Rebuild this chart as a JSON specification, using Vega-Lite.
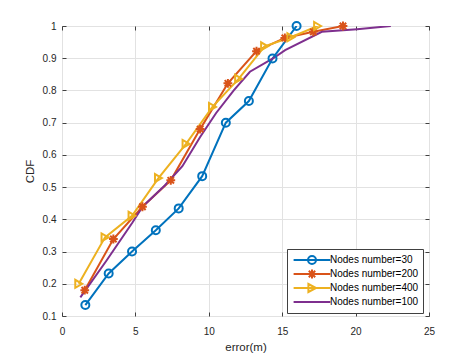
{
  "$schema": "https://vega.github.io/schema/vega-lite/v6.json",
  "width": 367,
  "height": 290,
  "autosize": "none",
  "padding": {"left": 62, "top": 26, "right": 45, "bottom": 39},
  "background": "white",
  "config": {
    "font": "Liberation Sans",
    "view": {"stroke": "#404040", "strokeWidth": 1},
    "axis": {
      "labelFont": "Liberation Sans",
      "titleFont": "Liberation Sans",
      "labelFontSize": 10,
      "titleFontSize": 11.5,
      "titleFontWeight": "normal",
      "labelColor": "#262626",
      "titleColor": "#262626",
      "tickColor": "#404040",
      "domain": false,
      "gridColor": "#e2e2e2",
      "gridWidth": 1,
      "labelOverlap": false,
      "labelFlush": false,
      "labelBound": false
    }
  },
  "datasets": {
    "pts": [
      {"s": "Nodes number=30", "x": 1.59, "y": 0.134},
      {"s": "Nodes number=30", "x": 3.18, "y": 0.232},
      {"s": "Nodes number=30", "x": 4.77, "y": 0.300},
      {"s": "Nodes number=30", "x": 6.39, "y": 0.366},
      {"s": "Nodes number=30", "x": 7.95, "y": 0.434},
      {"s": "Nodes number=30", "x": 9.55, "y": 0.534},
      {"s": "Nodes number=30", "x": 11.16, "y": 0.700},
      {"s": "Nodes number=30", "x": 12.73, "y": 0.767},
      {"s": "Nodes number=30", "x": 14.34, "y": 0.899},
      {"s": "Nodes number=30", "x": 15.98, "y": 1.0},
      {"s": "Nodes number=200", "x": 1.55, "y": 0.18},
      {"s": "Nodes number=200", "x": 3.5, "y": 0.339},
      {"s": "Nodes number=200", "x": 5.48, "y": 0.439},
      {"s": "Nodes number=200", "x": 7.41, "y": 0.521},
      {"s": "Nodes number=200", "x": 9.41, "y": 0.68},
      {"s": "Nodes number=200", "x": 11.3, "y": 0.822},
      {"s": "Nodes number=200", "x": 13.25, "y": 0.922},
      {"s": "Nodes number=200", "x": 15.18, "y": 0.963},
      {"s": "Nodes number=200", "x": 17.12, "y": 0.982},
      {"s": "Nodes number=200", "x": 19.14, "y": 1.0},
      {"s": "Nodes number=400", "x": 1.14, "y": 0.20},
      {"s": "Nodes number=400", "x": 2.93, "y": 0.344},
      {"s": "Nodes number=400", "x": 4.77, "y": 0.411},
      {"s": "Nodes number=400", "x": 6.57, "y": 0.528},
      {"s": "Nodes number=400", "x": 8.45, "y": 0.634},
      {"s": "Nodes number=400", "x": 10.25, "y": 0.749},
      {"s": "Nodes number=400", "x": 12.03, "y": 0.836},
      {"s": "Nodes number=400", "x": 13.8, "y": 0.937},
      {"s": "Nodes number=400", "x": 15.59, "y": 0.965},
      {"s": "Nodes number=400", "x": 17.41, "y": 1.0},
      {"s": "Nodes number=100", "x": 1.25, "y": 0.158},
      {"s": "Nodes number=100", "x": 3.0, "y": 0.27},
      {"s": "Nodes number=100", "x": 4.8, "y": 0.39},
      {"s": "Nodes number=100", "x": 5.5, "y": 0.44},
      {"s": "Nodes number=100", "x": 7.0, "y": 0.505},
      {"s": "Nodes number=100", "x": 8.2, "y": 0.565},
      {"s": "Nodes number=100", "x": 9.4, "y": 0.655},
      {"s": "Nodes number=100", "x": 10.5, "y": 0.73},
      {"s": "Nodes number=100", "x": 11.7, "y": 0.8},
      {"s": "Nodes number=100", "x": 12.8, "y": 0.858},
      {"s": "Nodes number=100", "x": 14.4, "y": 0.9},
      {"s": "Nodes number=100", "x": 15.2, "y": 0.925},
      {"s": "Nodes number=100", "x": 17.7, "y": 0.982},
      {"s": "Nodes number=100", "x": 20.1, "y": 0.99},
      {"s": "Nodes number=100", "x": 22.4, "y": 1.0}
    ]
  },
  "data": {"name": "pts"},
  "layer": [
    {
      "layer": [
        {
          "mark": {"type": "line", "strokeWidth": 2, "clip": true},
          "encoding": {
            "x": {
              "field": "x", "type": "quantitative",
              "scale": {"domain": [0, 25], "nice": false, "zero": false},
              "axis": {"values": [0, 5, 10, 15, 20, 25], "tickCount": 20, "title": "error(m)", "tickSize": -4, "labelPadding": 14, "titlePadding": 5, "grid": true, "labelOverlap": false, "labelFlush": false}
            },
            "y": {
              "field": "y", "type": "quantitative",
              "scale": {"domain": [0.1, 1], "nice": false, "zero": false},
              "axis": {"values": [0.1, 0.2, 0.3, 0.4, 0.5, 0.6, 0.7, 0.8, 0.9, 1], "tickCount": 20, "labelExpr": "format(datum.value, '.1~f')", "title": "CDF", "tickSize": -4, "labelPadding": 10, "titlePadding": 7, "grid": true, "labelOverlap": false, "labelFlush": false}
            },
            "color": {
              "field": "s", "type": "nominal",
              "scale": {
                "domain": ["Nodes number=30", "Nodes number=200", "Nodes number=400", "Nodes number=100"],
                "range": ["#0072BD", "#D95319", "#EDB120", "#7E2F8E"]
              },
              "legend": {
                "title": null,
                "orient": "none",
                "legendX": 225,
                "legendY": 223,
                "direction": "vertical",
                "fillColor": "white",
                "strokeColor": "#404040",
                "padding": 4,
                "labelFont": "Liberation Sans",
                "labelFontSize": 10,
                "labelColor": "#000000",
                "symbolSize": 64,
                "symbolStrokeWidth": 2,
                "symbolOffset": 16,
                "labelOffset": 13,
                "rowPadding": 0,
                "clipHeight": 14,
                "encode": {
                  "symbols": {
                    "update": {
                      "shape": {"signal": "datum.value === 'Nodes number=30' ? 'M-4.6,0H4.6M1,0A1,1 0 1,1 -1,0A1,1 0 1,1 1,0' : datum.value === 'Nodes number=200' ? 'M-4.6,0H4.6M0,-1.1V1.1M-1.1,0H1.1M-0.8,-0.8L0.8,0.8M-0.8,0.8L0.8,-0.8' : datum.value === 'Nodes number=400' ? 'M-4.6,0H4.6M-0.9,-1L1,0L-0.9,1Z' : 'M-4.6,0H4.6'"},
                      "fill": {"value": "transparent"},
                      "opacity": {"value": 1}
                    }
                  }
                }
              }
            },
            "order": {"field": "x", "type": "quantitative"}
          }
        },
        {
          "transform": [{"filter": "datum.s !== 'Nodes number=100'"}],
          "mark": {"type": "point", "filled": false, "strokeWidth": 2, "size": 64, "opacity": 1},
          "encoding": {
            "x": {"field": "x", "type": "quantitative"},
            "y": {"field": "y", "type": "quantitative"},
            "color": {"field": "s", "type": "nominal", "legend": null},
            "shape": {
              "field": "s", "type": "nominal",
              "scale": {
                "domain": ["Nodes number=30", "Nodes number=200", "Nodes number=400"],
                "range": ["circle", "M0,-1.1V1.1M-1.1,0H1.1M-0.8,-0.8L0.8,0.8M-0.8,0.8L0.8,-0.8", "triangle-right"]
              },
              "legend": null
            }
          }
        }
      ]
    },
    {
      "mark": {"type": "point", "opacity": 0},
      "encoding": {
        "x": {
          "field": "x", "type": "quantitative",
          "scale": {"domain": [0, 25], "nice": false, "zero": false},
          "axis": {"orient": "top", "values": [0, 5, 10, 15, 20, 25], "tickCount": 20, "labels": false, "title": null, "tickSize": -4, "grid": false}
        },
        "y": {
          "field": "y", "type": "quantitative",
          "scale": {"domain": [0.1, 1], "nice": false, "zero": false},
          "axis": {"orient": "right", "values": [0.1, 0.2, 0.3, 0.4, 0.5, 0.6, 0.7, 0.8, 0.9, 1], "tickCount": 20, "labels": false, "title": null, "tickSize": -4, "grid": false}
        }
      }
    }
  ],
  "resolve": {"scale": {"x": "independent", "y": "independent"}, "axis": {"x": "independent", "y": "independent"}}
}
